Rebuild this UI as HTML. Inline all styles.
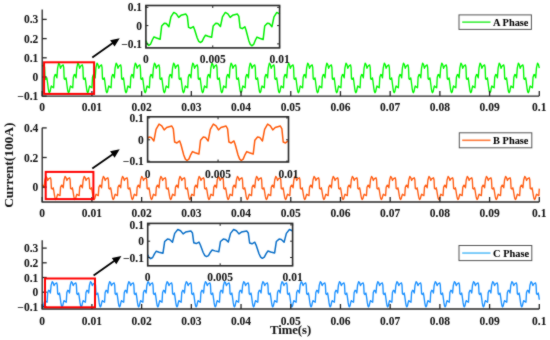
<!DOCTYPE html>
<html><head><meta charset="utf-8"><style>
html,body{margin:0;padding:0;background:#fff;}
body{width:550px;height:340px;overflow:hidden;}
svg{display:block;}
text{font-family:'Liberation Serif','Times New Roman',serif;font-weight:bold;fill:#151515;stroke:#151515;stroke-width:0.05px;}
.tk{font-size:11.5px;}
.lg{font-size:10.35px;fill:#000;stroke:#000;}
.xl{font-size:12.7px;}
.yl{font-size:13.4px;}
</style></head><body>
<div id="w"><svg width="550" height="340" viewBox="0 0 550 340">
<defs><filter id="bl" x="0" y="0" width="550" height="340" filterUnits="userSpaceOnUse" color-interpolation-filters="sRGB"><feConvolveMatrix order="3" kernelMatrix="1 2 1 2 20 2 1 2 1" divisor="32" edgeMode="duplicate"/></filter></defs>
<rect width="550" height="340" fill="#fff"/>
<g filter="url(#bl)">
<rect width="550" height="340" fill="#fff"/>
<polyline points="42.20,66.31 42.23,66.25 44.05,64.90 44.58,67.40 45.04,78.65 45.86,79.40 46.82,77.90 47.26,80.59 48.26,88.53 48.83,91.68 49.41,92.72 50.08,91.68 50.75,88.23 51.32,85.99 52.28,86.88 53.62,87.78 54.20,77.30 55.15,74.50 55.92,74.89 56.88,77.90 57.64,67.78 58.70,63.18 59.65,64.71 60.52,68.36 61.38,66.25 63.20,64.90 63.73,67.40 64.19,78.65 65.02,79.40 65.98,77.90 66.42,80.59 67.41,88.53 67.99,91.68 68.56,92.72 69.23,91.68 69.90,88.23 70.48,85.99 71.43,86.88 72.77,87.78 73.35,77.30 74.31,74.50 75.07,74.89 76.03,77.90 76.80,67.78 77.85,63.18 78.81,64.71 79.67,68.36 80.53,66.25 82.35,64.90 82.89,67.40 83.35,78.65 84.17,79.40 85.13,77.90 85.57,80.59 86.57,88.53 87.14,91.68 87.71,92.72 88.38,91.68 89.06,88.23 89.63,85.99 90.59,86.88 91.93,87.78 92.50,77.30 93.46,74.50 94.23,74.89 95.18,77.90 95.95,67.78 97.00,63.18 97.96,64.71 98.82,68.36 99.69,66.25 101.50,64.90 102.04,67.40 102.50,78.65 103.32,79.40 104.28,77.90 104.72,80.59 105.72,88.53 106.29,91.68 106.87,92.72 107.54,91.68 108.21,88.23 108.78,85.99 109.74,86.88 111.08,87.78 111.66,77.30 112.61,74.50 113.38,74.89 114.34,77.90 115.10,67.78 116.16,63.18 117.11,64.71 117.98,68.36 118.84,66.25 120.66,64.90 121.19,67.40 121.65,78.65 122.48,79.40 123.44,77.90 123.88,80.59 124.87,88.53 125.45,91.68 126.02,92.72 126.69,91.68 127.36,88.23 127.94,85.99 128.89,86.88 130.23,87.78 130.81,77.30 131.77,74.50 132.53,74.89 133.49,77.90 134.26,67.78 135.31,63.18 136.27,64.71 137.13,68.36 137.99,66.25 139.81,64.90 140.35,67.40 140.81,78.65 141.63,79.40 142.59,77.90 143.03,80.59 144.03,88.53 144.60,91.68 145.17,92.72 145.84,91.68 146.51,88.23 147.09,85.99 148.05,86.88 149.39,87.78 149.96,77.30 150.92,74.50 151.69,74.89 152.64,77.90 153.41,67.78 154.46,63.18 155.42,64.71 156.28,68.36 157.15,66.25 158.96,64.90 159.50,67.40 159.96,78.65 160.78,79.40 161.74,77.90 162.18,80.59 163.18,88.53 163.75,91.68 164.33,92.72 165.00,91.68 165.67,88.23 166.24,85.99 167.20,86.88 168.54,87.78 169.12,77.30 170.07,74.50 170.84,74.89 171.80,77.90 172.56,67.78 173.62,63.18 174.57,64.71 175.44,68.36 176.30,66.25 178.12,64.90 178.65,67.40 179.11,78.65 179.94,79.40 180.90,77.90 181.34,80.59 182.33,88.53 182.91,91.68 183.48,92.72 184.15,91.68 184.82,88.23 185.40,85.99 186.35,86.88 187.69,87.78 188.27,77.30 189.23,74.50 189.99,74.89 190.95,77.90 191.72,67.78 192.77,63.18 193.73,64.71 194.59,68.36 195.45,66.25 197.27,64.90 197.81,67.40 198.27,78.65 199.09,79.40 200.05,77.90 200.49,80.59 201.48,88.53 202.06,91.68 202.63,92.72 203.30,91.68 203.97,88.23 204.55,85.99 205.51,86.88 206.85,87.78 207.42,77.30 208.38,74.50 209.15,74.89 210.10,77.90 210.87,67.78 211.92,63.18 212.88,64.71 213.74,68.36 214.60,66.25 216.42,64.90 216.96,67.40 217.42,78.65 218.24,79.40 219.20,77.90 219.64,80.59 220.64,88.53 221.21,91.68 221.79,92.72 222.46,91.68 223.13,88.23 223.70,85.99 224.66,86.88 226.00,87.78 226.58,77.30 227.53,74.50 228.30,74.89 229.26,77.90 230.02,67.78 231.08,63.18 232.03,64.71 232.90,68.36 233.76,66.25 235.58,64.90 236.11,67.40 236.57,78.65 237.40,79.40 238.35,77.90 238.80,80.59 239.79,88.53 240.37,91.68 240.94,92.72 241.61,91.68 242.28,88.23 242.86,85.99 243.81,86.88 245.15,87.78 245.73,77.30 246.69,74.50 247.45,74.89 248.41,77.90 249.18,67.78 250.23,63.18 251.19,64.71 252.05,68.36 252.91,66.25 254.73,64.90 255.27,67.40 255.73,78.65 256.55,79.40 257.51,77.90 257.95,80.59 258.94,88.53 259.52,91.68 260.09,92.72 260.76,91.68 261.43,88.23 262.01,85.99 262.97,86.88 264.31,87.78 264.88,77.30 265.84,74.50 266.61,74.89 267.56,77.90 268.33,67.78 269.38,63.18 270.34,64.71 271.20,68.36 272.06,66.25 273.88,64.90 274.42,67.40 274.88,78.65 275.70,79.40 276.66,77.90 277.10,80.59 278.10,88.53 278.67,91.68 279.25,92.72 279.92,91.68 280.59,88.23 281.16,85.99 282.12,86.88 283.46,87.78 284.04,77.30 284.99,74.50 285.76,74.89 286.72,77.90 287.48,67.78 288.54,63.18 289.49,64.71 290.36,68.36 291.22,66.25 293.04,64.90 293.57,67.40 294.03,78.65 294.86,79.40 295.81,77.90 296.26,80.59 297.25,88.53 297.83,91.68 298.40,92.72 299.07,91.68 299.74,88.23 300.32,85.99 301.27,86.88 302.61,87.78 303.19,77.30 304.15,74.50 304.91,74.89 305.87,77.90 306.64,67.78 307.69,63.18 308.65,64.71 309.51,68.36 310.37,66.25 312.19,64.90 312.73,67.40 313.19,78.65 314.01,79.40 314.97,77.90 315.41,80.59 316.40,88.53 316.98,91.68 317.55,92.72 318.22,91.68 318.89,88.23 319.47,85.99 320.43,86.88 321.77,87.78 322.34,77.30 323.30,74.50 324.07,74.89 325.02,77.90 325.79,67.78 326.84,63.18 327.80,64.71 328.66,68.36 329.52,66.25 331.34,64.90 331.88,67.40 332.34,78.65 333.16,79.40 334.12,77.90 334.56,80.59 335.56,88.53 336.13,91.68 336.71,92.72 337.38,91.68 338.05,88.23 338.62,85.99 339.58,86.88 340.92,87.78 341.50,77.30 342.45,74.50 343.22,74.89 344.18,77.90 344.94,67.78 346.00,63.18 346.95,64.71 347.82,68.36 348.68,66.25 350.50,64.90 351.03,67.40 351.49,78.65 352.32,79.40 353.27,77.90 353.71,80.59 354.71,88.53 355.29,91.68 355.86,92.72 356.53,91.68 357.20,88.23 357.78,85.99 358.73,86.88 360.07,87.78 360.65,77.30 361.61,74.50 362.37,74.89 363.33,77.90 364.10,67.78 365.15,63.18 366.11,64.71 366.97,68.36 367.83,66.25 369.65,64.90 370.19,67.40 370.65,78.65 371.47,79.40 372.43,77.90 372.87,80.59 373.86,88.53 374.44,91.68 375.01,92.72 375.68,91.68 376.35,88.23 376.93,85.99 377.89,86.88 379.23,87.78 379.80,77.30 380.76,74.50 381.53,74.89 382.48,77.90 383.25,67.78 384.30,63.18 385.26,64.71 386.12,68.36 386.98,66.25 388.80,64.90 389.34,67.40 389.80,78.65 390.62,79.40 391.58,77.90 392.02,80.59 393.02,88.53 393.59,91.68 394.17,92.72 394.84,91.68 395.51,88.23 396.08,85.99 397.04,86.88 398.38,87.78 398.95,77.30 399.91,74.50 400.68,74.89 401.64,77.90 402.40,67.78 403.46,63.18 404.41,64.71 405.28,68.36 406.14,66.25 407.96,64.90 408.49,67.40 408.95,78.65 409.78,79.40 410.73,77.90 411.17,80.59 412.17,88.53 412.75,91.68 413.32,92.72 413.99,91.68 414.66,88.23 415.24,85.99 416.19,86.88 417.53,87.78 418.11,77.30 419.07,74.50 419.83,74.89 420.79,77.90 421.56,67.78 422.61,63.18 423.57,64.71 424.43,68.36 425.29,66.25 427.11,64.90 427.65,67.40 428.11,78.65 428.93,79.40 429.89,77.90 430.33,80.59 431.32,88.53 431.90,91.68 432.47,92.72 433.14,91.68 433.81,88.23 434.39,85.99 435.35,86.88 436.69,87.78 437.26,77.30 438.22,74.50 438.99,74.89 439.94,77.90 440.71,67.78 441.76,63.18 442.72,64.71 443.58,68.36 444.44,66.25 446.26,64.90 446.80,67.40 447.26,78.65 448.08,79.40 449.04,77.90 449.48,80.59 450.48,88.53 451.05,91.68 451.63,92.72 452.30,91.68 452.97,88.23 453.54,85.99 454.50,86.88 455.84,87.78 456.41,77.30 457.37,74.50 458.14,74.89 459.10,77.90 459.86,67.78 460.92,63.18 461.87,64.71 462.74,68.36 463.60,66.25 465.42,64.90 465.95,67.40 466.41,78.65 467.24,79.40 468.19,77.90 468.63,80.59 469.63,88.53 470.21,91.68 470.78,92.72 471.45,91.68 472.12,88.23 472.70,85.99 473.65,86.88 474.99,87.78 475.57,77.30 476.53,74.50 477.29,74.89 478.25,77.90 479.02,67.78 480.07,63.18 481.03,64.71 481.89,68.36 482.75,66.25 484.57,64.90 485.11,67.40 485.57,78.65 486.39,79.40 487.35,77.90 487.79,80.59 488.78,88.53 489.36,91.68 489.93,92.72 490.60,91.68 491.27,88.23 491.85,85.99 492.81,86.88 494.15,87.78 494.72,77.30 495.68,74.50 496.45,74.89 497.40,77.90 498.17,67.78 499.22,63.18 500.18,64.71 501.04,68.36 501.90,66.25 503.72,64.90 504.26,67.40 504.72,78.65 505.54,79.40 506.50,77.90 506.94,80.59 507.94,88.53 508.51,91.68 509.09,92.72 509.76,91.68 510.43,88.23 511.00,85.99 511.96,86.88 513.30,87.78 513.87,77.30 514.83,74.50 515.60,74.89 516.56,77.90 517.32,67.78 518.38,63.18 519.33,64.71 520.20,68.36 521.06,66.25 522.88,64.90 523.41,67.40 523.87,78.65 524.70,79.40 525.65,77.90 526.09,80.59 527.09,88.53 527.66,91.68 528.24,92.72 528.91,91.68 529.58,88.23 530.15,85.99 531.11,86.88 532.45,87.78 533.03,77.30 533.99,74.50 534.75,74.89 535.71,77.90 536.48,67.78 537.53,63.18 538.49,64.71 539.30,68.16" fill="none" stroke="#00f800" stroke-width="1.35" stroke-linejoin="round"/>
<path d="M42.2,9.4V96.1H539.3" fill="none" stroke="#262626" stroke-width="1.3"/>
<path d="M42.2,19.40h4.5" stroke="#262626" stroke-width="1.3"/>
<text x="38.3" y="23.40" text-anchor="end" class="tk">0.3</text>
<path d="M42.2,38.60h4.5" stroke="#262626" stroke-width="1.3"/>
<text x="38.3" y="42.60" text-anchor="end" class="tk">0.2</text>
<path d="M42.2,57.80h4.5" stroke="#262626" stroke-width="1.3"/>
<text x="38.3" y="61.80" text-anchor="end" class="tk">0.1</text>
<path d="M42.2,77.00h4.5" stroke="#262626" stroke-width="1.3"/>
<text x="38.3" y="81.00" text-anchor="end" class="tk">0</text>
<path d="M42.2,96.20h4.5" stroke="#262626" stroke-width="1.3"/>
<text x="38.3" y="100.20" text-anchor="end" class="tk">−0.1</text>
<path d="M42.20,96.1v-5" stroke="#262626" stroke-width="1.3"/>
<text x="42.20" y="111.10" text-anchor="middle" class="tk">0</text>
<path d="M91.91,96.1v-5" stroke="#262626" stroke-width="1.3"/>
<text x="91.91" y="111.10" text-anchor="middle" class="tk">0.01</text>
<path d="M141.62,96.1v-5" stroke="#262626" stroke-width="1.3"/>
<text x="141.62" y="111.10" text-anchor="middle" class="tk">0.02</text>
<path d="M191.33,96.1v-5" stroke="#262626" stroke-width="1.3"/>
<text x="191.33" y="111.10" text-anchor="middle" class="tk">0.03</text>
<path d="M241.04,96.1v-5" stroke="#262626" stroke-width="1.3"/>
<text x="241.04" y="111.10" text-anchor="middle" class="tk">0.04</text>
<path d="M290.75,96.1v-5" stroke="#262626" stroke-width="1.3"/>
<text x="290.75" y="111.10" text-anchor="middle" class="tk">0.05</text>
<path d="M340.46,96.1v-5" stroke="#262626" stroke-width="1.3"/>
<text x="340.46" y="111.10" text-anchor="middle" class="tk">0.06</text>
<path d="M390.17,96.1v-5" stroke="#262626" stroke-width="1.3"/>
<text x="390.17" y="111.10" text-anchor="middle" class="tk">0.07</text>
<path d="M439.88,96.1v-5" stroke="#262626" stroke-width="1.3"/>
<text x="439.88" y="111.10" text-anchor="middle" class="tk">0.08</text>
<path d="M489.59,96.1v-5" stroke="#262626" stroke-width="1.3"/>
<text x="489.59" y="111.10" text-anchor="middle" class="tk">0.09</text>
<path d="M539.30,96.1v-5" stroke="#262626" stroke-width="1.3"/>
<text x="539.30" y="111.10" text-anchor="middle" class="tk">0.1</text>
<polyline points="42.20,185.56 42.36,185.18 43.13,185.47 44.09,187.81 44.85,180.00 45.91,176.44 46.86,177.63 47.73,180.44 48.59,178.81 50.41,177.78 50.94,179.70 51.40,188.40 52.23,188.99 53.19,187.81 53.63,189.94 54.62,196.22 55.20,198.70 55.77,199.53 56.44,198.70 57.11,195.98 57.69,194.20 58.64,194.91 59.98,195.62 60.56,187.34 61.52,185.18 62.28,185.47 63.24,187.81 64.01,180.00 65.06,176.44 66.02,177.63 66.88,180.44 67.74,178.81 69.56,177.78 70.10,179.70 70.56,188.40 71.38,188.99 72.34,187.81 72.78,189.94 73.77,196.22 74.35,198.70 74.92,199.53 75.59,198.70 76.26,195.98 76.84,194.20 77.80,194.91 79.14,195.62 79.71,187.34 80.67,185.18 81.44,185.47 82.39,187.81 83.16,180.00 84.21,176.44 85.17,177.63 86.03,180.44 86.89,178.81 88.71,177.78 89.25,179.70 89.71,188.40 90.53,188.99 91.49,187.81 91.93,189.94 92.93,196.22 93.50,198.70 94.08,199.53 94.75,198.70 95.42,195.98 95.99,194.20 96.95,194.91 98.29,195.62 98.87,187.34 99.82,185.18 100.59,185.47 101.55,187.81 102.31,180.00 103.37,176.44 104.32,177.63 105.19,180.44 106.05,178.81 107.87,177.78 108.40,179.70 108.86,188.40 109.69,188.99 110.64,187.81 111.09,189.94 112.08,196.22 112.66,198.70 113.23,199.53 113.90,198.70 114.57,195.98 115.15,194.20 116.10,194.91 117.44,195.62 118.02,187.34 118.98,185.18 119.74,185.47 120.70,187.81 121.47,180.00 122.52,176.44 123.48,177.63 124.34,180.44 125.20,178.81 127.02,177.78 127.56,179.70 128.02,188.40 128.84,188.99 129.80,187.81 130.24,189.94 131.23,196.22 131.81,198.70 132.38,199.53 133.05,198.70 133.72,195.98 134.30,194.20 135.26,194.91 136.60,195.62 137.17,187.34 138.13,185.18 138.90,185.47 139.85,187.81 140.62,180.00 141.67,176.44 142.63,177.63 143.49,180.44 144.35,178.81 146.17,177.78 146.71,179.70 147.17,188.40 147.99,188.99 148.95,187.81 149.39,189.94 150.39,196.22 150.96,198.70 151.54,199.53 152.21,198.70 152.88,195.98 153.45,194.20 154.41,194.91 155.75,195.62 156.33,187.34 157.28,185.18 158.05,185.47 159.01,187.81 159.77,180.00 160.83,176.44 161.78,177.63 162.65,180.44 163.51,178.81 165.33,177.78 165.86,179.70 166.32,188.40 167.15,188.99 168.10,187.81 168.55,189.94 169.54,196.22 170.12,198.70 170.69,199.53 171.36,198.70 172.03,195.98 172.61,194.20 173.56,194.91 174.90,195.62 175.48,187.34 176.44,185.18 177.20,185.47 178.16,187.81 178.93,180.00 179.98,176.44 180.94,177.63 181.80,180.44 182.66,178.81 184.48,177.78 185.02,179.70 185.48,188.40 186.30,188.99 187.26,187.81 187.70,189.94 188.69,196.22 189.27,198.70 189.84,199.53 190.51,198.70 191.18,195.98 191.76,194.20 192.72,194.91 194.06,195.62 194.63,187.34 195.59,185.18 196.36,185.47 197.31,187.81 198.08,180.00 199.13,176.44 200.09,177.63 200.95,180.44 201.81,178.81 203.63,177.78 204.17,179.70 204.63,188.40 205.45,188.99 206.41,187.81 206.85,189.94 207.85,196.22 208.42,198.70 209.00,199.53 209.67,198.70 210.34,195.98 210.91,194.20 211.87,194.91 213.21,195.62 213.79,187.34 214.74,185.18 215.51,185.47 216.47,187.81 217.23,180.00 218.29,176.44 219.24,177.63 220.11,180.44 220.97,178.81 222.79,177.78 223.32,179.70 223.78,188.40 224.61,188.99 225.56,187.81 226.01,189.94 227.00,196.22 227.58,198.70 228.15,199.53 228.82,198.70 229.49,195.98 230.07,194.20 231.02,194.91 232.36,195.62 232.94,187.34 233.90,185.18 234.66,185.47 235.62,187.81 236.39,180.00 237.44,176.44 238.40,177.63 239.26,180.44 240.12,178.81 241.94,177.78 242.48,179.70 242.94,188.40 243.76,188.99 244.72,187.81 245.16,189.94 246.15,196.22 246.73,198.70 247.30,199.53 247.97,198.70 248.64,195.98 249.22,194.20 250.18,194.91 251.52,195.62 252.09,187.34 253.05,185.18 253.82,185.47 254.77,187.81 255.54,180.00 256.59,176.44 257.55,177.63 258.41,180.44 259.27,178.81 261.09,177.78 261.63,179.70 262.09,188.40 262.91,188.99 263.87,187.81 264.31,189.94 265.31,196.22 265.88,198.70 266.46,199.53 267.13,198.70 267.80,195.98 268.37,194.20 269.33,194.91 270.67,195.62 271.25,187.34 272.20,185.18 272.97,185.47 273.93,187.81 274.69,180.00 275.75,176.44 276.70,177.63 277.57,180.44 278.43,178.81 280.25,177.78 280.78,179.70 281.24,188.40 282.07,188.99 283.02,187.81 283.46,189.94 284.46,196.22 285.04,198.70 285.61,199.53 286.28,198.70 286.95,195.98 287.53,194.20 288.48,194.91 289.82,195.62 290.40,187.34 291.36,185.18 292.12,185.47 293.08,187.81 293.85,180.00 294.90,176.44 295.86,177.63 296.72,180.44 297.58,178.81 299.40,177.78 299.94,179.70 300.40,188.40 301.22,188.99 302.18,187.81 302.62,189.94 303.61,196.22 304.19,198.70 304.76,199.53 305.43,198.70 306.10,195.98 306.68,194.20 307.64,194.91 308.98,195.62 309.55,187.34 310.51,185.18 311.28,185.47 312.23,187.81 313.00,180.00 314.05,176.44 315.01,177.63 315.87,180.44 316.73,178.81 318.55,177.78 319.09,179.70 319.55,188.40 320.37,188.99 321.33,187.81 321.77,189.94 322.77,196.22 323.34,198.70 323.92,199.53 324.59,198.70 325.26,195.98 325.83,194.20 326.79,194.91 328.13,195.62 328.70,187.34 329.66,185.18 330.43,185.47 331.39,187.81 332.15,180.00 333.21,176.44 334.16,177.63 335.03,180.44 335.89,178.81 337.71,177.78 338.24,179.70 338.70,188.40 339.53,188.99 340.48,187.81 340.92,189.94 341.92,196.22 342.50,198.70 343.07,199.53 343.74,198.70 344.41,195.98 344.99,194.20 345.94,194.91 347.28,195.62 347.86,187.34 348.82,185.18 349.58,185.47 350.54,187.81 351.31,180.00 352.36,176.44 353.32,177.63 354.18,180.44 355.04,178.81 356.86,177.78 357.40,179.70 357.86,188.40 358.68,188.99 359.64,187.81 360.08,189.94 361.07,196.22 361.65,198.70 362.22,199.53 362.89,198.70 363.56,195.98 364.14,194.20 365.10,194.91 366.44,195.62 367.01,187.34 367.97,185.18 368.74,185.47 369.69,187.81 370.46,180.00 371.51,176.44 372.47,177.63 373.33,180.44 374.19,178.81 376.01,177.78 376.55,179.70 377.01,188.40 377.83,188.99 378.79,187.81 379.23,189.94 380.23,196.22 380.80,198.70 381.38,199.53 382.05,198.70 382.72,195.98 383.29,194.20 384.25,194.91 385.59,195.62 386.16,187.34 387.12,185.18 387.89,185.47 388.85,187.81 389.61,180.00 390.67,176.44 391.62,177.63 392.49,180.44 393.35,178.81 395.17,177.78 395.70,179.70 396.16,188.40 396.99,188.99 397.94,187.81 398.38,189.94 399.38,196.22 399.95,198.70 400.53,199.53 401.20,198.70 401.87,195.98 402.44,194.20 403.40,194.91 404.74,195.62 405.32,187.34 406.28,185.18 407.04,185.47 408.00,187.81 408.77,180.00 409.82,176.44 410.78,177.63 411.64,180.44 412.50,178.81 414.32,177.78 414.86,179.70 415.32,188.40 416.14,188.99 417.10,187.81 417.54,189.94 418.53,196.22 419.11,198.70 419.68,199.53 420.35,198.70 421.02,195.98 421.60,194.20 422.56,194.91 423.90,195.62 424.47,187.34 425.43,185.18 426.19,185.47 427.15,187.81 427.92,180.00 428.97,176.44 429.93,177.63 430.79,180.44 431.65,178.81 433.47,177.78 434.01,179.70 434.47,188.40 435.29,188.99 436.25,187.81 436.69,189.94 437.69,196.22 438.26,198.70 438.84,199.53 439.51,198.70 440.18,195.98 440.75,194.20 441.71,194.91 443.05,195.62 443.62,187.34 444.58,185.18 445.35,185.47 446.31,187.81 447.07,180.00 448.13,176.44 449.08,177.63 449.94,180.44 450.81,178.81 452.63,177.78 453.16,179.70 453.62,188.40 454.45,188.99 455.40,187.81 455.84,189.94 456.84,196.22 457.41,198.70 457.99,199.53 458.66,198.70 459.33,195.98 459.90,194.20 460.86,194.91 462.20,195.62 462.78,187.34 463.74,185.18 464.50,185.47 465.46,187.81 466.23,180.00 467.28,176.44 468.24,177.63 469.10,180.44 469.96,178.81 471.78,177.78 472.32,179.70 472.78,188.40 473.60,188.99 474.56,187.81 475.00,189.94 475.99,196.22 476.57,198.70 477.14,199.53 477.81,198.70 478.48,195.98 479.06,194.20 480.02,194.91 481.36,195.62 481.93,187.34 482.89,185.18 483.65,185.47 484.61,187.81 485.38,180.00 486.43,176.44 487.39,177.63 488.25,180.44 489.11,178.81 490.93,177.78 491.47,179.70 491.93,188.40 492.75,188.99 493.71,187.81 494.15,189.94 495.15,196.22 495.72,198.70 496.30,199.53 496.97,198.70 497.64,195.98 498.21,194.20 499.17,194.91 500.51,195.62 501.08,187.34 502.04,185.18 502.81,185.47 503.77,187.81 504.53,180.00 505.59,176.44 506.54,177.63 507.40,180.44 508.27,178.81 510.09,177.78 510.62,179.70 511.08,188.40 511.91,188.99 512.86,187.81 513.30,189.94 514.30,196.22 514.87,198.70 515.45,199.53 516.12,198.70 516.79,195.98 517.36,194.20 518.32,194.91 519.66,195.62 520.24,187.34 521.20,185.18 521.96,185.47 522.92,187.81 523.69,180.00 524.74,176.44 525.70,177.63 526.56,180.44 527.42,178.81 529.24,177.78 529.78,179.70 530.24,188.40 531.06,188.99 532.02,187.81 532.46,189.94 533.45,196.22 534.03,198.70 534.60,199.53 535.27,198.70 535.94,195.98 536.52,194.20 537.48,194.91 538.82,195.62 539.30,188.65" fill="none" stroke="#ff5c12" stroke-width="1.35" stroke-linejoin="round"/>
<path d="M42.2,127.7V202.0H539.3" fill="none" stroke="#262626" stroke-width="1.3"/>
<path d="M42.2,127.90h4.5" stroke="#262626" stroke-width="1.3"/>
<text x="38.3" y="131.90" text-anchor="end" class="tk">0.4</text>
<path d="M42.2,157.50h4.5" stroke="#262626" stroke-width="1.3"/>
<text x="38.3" y="161.50" text-anchor="end" class="tk">0.2</text>
<path d="M42.2,187.10h4.5" stroke="#262626" stroke-width="1.3"/>
<text x="38.3" y="191.10" text-anchor="end" class="tk">0</text>
<path d="M42.20,202.0v-5" stroke="#262626" stroke-width="1.3"/>
<text x="42.20" y="217.00" text-anchor="middle" class="tk">0</text>
<path d="M91.91,202.0v-5" stroke="#262626" stroke-width="1.3"/>
<text x="91.91" y="217.00" text-anchor="middle" class="tk">0.01</text>
<path d="M141.62,202.0v-5" stroke="#262626" stroke-width="1.3"/>
<text x="141.62" y="217.00" text-anchor="middle" class="tk">0.02</text>
<path d="M191.33,202.0v-5" stroke="#262626" stroke-width="1.3"/>
<text x="191.33" y="217.00" text-anchor="middle" class="tk">0.03</text>
<path d="M241.04,202.0v-5" stroke="#262626" stroke-width="1.3"/>
<text x="241.04" y="217.00" text-anchor="middle" class="tk">0.04</text>
<path d="M290.75,202.0v-5" stroke="#262626" stroke-width="1.3"/>
<text x="290.75" y="217.00" text-anchor="middle" class="tk">0.05</text>
<path d="M340.46,202.0v-5" stroke="#262626" stroke-width="1.3"/>
<text x="340.46" y="217.00" text-anchor="middle" class="tk">0.06</text>
<path d="M390.17,202.0v-5" stroke="#262626" stroke-width="1.3"/>
<text x="390.17" y="217.00" text-anchor="middle" class="tk">0.07</text>
<path d="M439.88,202.0v-5" stroke="#262626" stroke-width="1.3"/>
<text x="439.88" y="217.00" text-anchor="middle" class="tk">0.08</text>
<path d="M489.59,202.0v-5" stroke="#262626" stroke-width="1.3"/>
<text x="489.59" y="217.00" text-anchor="middle" class="tk">0.09</text>
<path d="M539.30,202.0v-5" stroke="#262626" stroke-width="1.3"/>
<text x="539.30" y="217.00" text-anchor="middle" class="tk">0.1</text>
<polyline points="42.20,305.27 42.32,305.89 42.90,306.86 43.57,305.89 44.24,302.67 44.81,300.58 45.77,301.42 47.11,302.25 47.68,292.48 48.64,290.29 49.41,290.58 50.37,293.04 51.13,285.14 52.19,281.62 53.14,282.79 54.00,285.58 54.87,283.97 56.69,282.94 57.22,284.85 57.68,293.74 58.51,294.43 59.46,293.04 59.90,295.55 60.90,302.95 61.47,305.89 62.05,306.86 62.72,305.89 63.39,302.67 63.96,300.58 64.92,301.42 66.26,302.25 66.84,292.48 67.80,290.29 68.56,290.58 69.52,293.04 70.29,285.14 71.34,281.62 72.30,282.79 73.16,285.58 74.02,283.97 75.84,282.94 76.38,284.85 76.84,293.74 77.66,294.43 78.62,293.04 79.06,295.55 80.05,302.95 80.63,305.89 81.20,306.86 81.87,305.89 82.54,302.67 83.12,300.58 84.08,301.42 85.42,302.25 85.99,292.48 86.95,290.29 87.71,290.58 88.67,293.04 89.44,285.14 90.49,281.62 91.45,282.79 92.31,285.58 93.17,283.97 94.99,282.94 95.53,284.85 95.99,293.74 96.81,294.43 97.77,293.04 98.21,295.55 99.21,302.95 99.78,305.89 100.36,306.86 101.03,305.89 101.70,302.67 102.27,300.58 103.23,301.42 104.57,302.25 105.14,292.48 106.10,290.29 106.87,290.58 107.83,293.04 108.59,285.14 109.65,281.62 110.60,282.79 111.46,285.58 112.33,283.97 114.15,282.94 114.68,284.85 115.14,293.74 115.97,294.43 116.92,293.04 117.36,295.55 118.36,302.95 118.93,305.89 119.51,306.86 120.18,305.89 120.85,302.67 121.42,300.58 122.38,301.42 123.72,302.25 124.30,292.48 125.25,290.29 126.02,290.58 126.98,293.04 127.74,285.14 128.80,281.62 129.76,282.79 130.62,285.58 131.48,283.97 133.30,282.94 133.84,284.85 134.30,293.74 135.12,294.43 136.08,293.04 136.52,295.55 137.51,302.95 138.09,305.89 138.66,306.86 139.33,305.89 140.00,302.67 140.58,300.58 141.54,301.42 142.88,302.25 143.45,292.48 144.41,290.29 145.17,290.58 146.13,293.04 146.90,285.14 147.95,281.62 148.91,282.79 149.77,285.58 150.63,283.97 152.45,282.94 152.99,284.85 153.45,293.74 154.27,294.43 155.23,293.04 155.67,295.55 156.67,302.95 157.24,305.89 157.82,306.86 158.49,305.89 159.16,302.67 159.73,300.58 160.69,301.42 162.03,302.25 162.60,292.48 163.56,290.29 164.33,290.58 165.29,293.04 166.05,285.14 167.10,281.62 168.06,282.79 168.92,285.58 169.79,283.97 171.61,282.94 172.14,284.85 172.60,293.74 173.43,294.43 174.38,293.04 174.82,295.55 175.82,302.95 176.39,305.89 176.97,306.86 177.64,305.89 178.31,302.67 178.88,300.58 179.84,301.42 181.18,302.25 181.76,292.48 182.71,290.29 183.48,290.58 184.44,293.04 185.20,285.14 186.26,281.62 187.22,282.79 188.08,285.58 188.94,283.97 190.76,282.94 191.30,284.85 191.76,293.74 192.58,294.43 193.54,293.04 193.98,295.55 194.97,302.95 195.55,305.89 196.12,306.86 196.79,305.89 197.46,302.67 198.04,300.58 199.00,301.42 200.34,302.25 200.91,292.48 201.87,290.29 202.63,290.58 203.59,293.04 204.36,285.14 205.41,281.62 206.37,282.79 207.23,285.58 208.09,283.97 209.91,282.94 210.45,284.85 210.91,293.74 211.73,294.43 212.69,293.04 213.13,295.55 214.13,302.95 214.70,305.89 215.28,306.86 215.95,305.89 216.62,302.67 217.19,300.58 218.15,301.42 219.49,302.25 220.06,292.48 221.02,290.29 221.79,290.58 222.75,293.04 223.51,285.14 224.56,281.62 225.52,282.79 226.38,285.58 227.25,283.97 229.07,282.94 229.60,284.85 230.06,293.74 230.89,294.43 231.84,293.04 232.28,295.55 233.28,302.95 233.85,305.89 234.43,306.86 235.10,305.89 235.77,302.67 236.34,300.58 237.30,301.42 238.64,302.25 239.22,292.48 240.17,290.29 240.94,290.58 241.90,293.04 242.66,285.14 243.72,281.62 244.68,282.79 245.54,285.58 246.40,283.97 248.22,282.94 248.76,284.85 249.21,293.74 250.04,294.43 251.00,293.04 251.44,295.55 252.43,302.95 253.01,305.89 253.58,306.86 254.25,305.89 254.92,302.67 255.50,300.58 256.45,301.42 257.80,302.25 258.37,292.48 259.33,290.29 260.09,290.58 261.05,293.04 261.82,285.14 262.87,281.62 263.83,282.79 264.69,285.58 265.55,283.97 267.37,282.94 267.91,284.85 268.37,293.74 269.19,294.43 270.15,293.04 270.59,295.55 271.59,302.95 272.16,305.89 272.74,306.86 273.41,305.89 274.08,302.67 274.65,300.58 275.61,301.42 276.95,302.25 277.52,292.48 278.48,290.29 279.25,290.58 280.20,293.04 280.97,285.14 282.02,281.62 282.98,282.79 283.84,285.58 284.71,283.97 286.53,282.94 287.06,284.85 287.52,293.74 288.35,294.43 289.30,293.04 289.74,295.55 290.74,302.95 291.31,305.89 291.89,306.86 292.56,305.89 293.23,302.67 293.80,300.58 294.76,301.42 296.10,302.25 296.68,292.48 297.63,290.29 298.40,290.58 299.36,293.04 300.12,285.14 301.18,281.62 302.14,282.79 303.00,285.58 303.86,283.97 305.68,282.94 306.21,284.85 306.67,293.74 307.50,294.43 308.46,293.04 308.90,295.55 309.89,302.95 310.47,305.89 311.04,306.86 311.71,305.89 312.38,302.67 312.96,300.58 313.91,301.42 315.26,302.25 315.83,292.48 316.79,290.29 317.55,290.58 318.51,293.04 319.28,285.14 320.33,281.62 321.29,282.79 322.15,285.58 323.01,283.97 324.83,282.94 325.37,284.85 325.83,293.74 326.65,294.43 327.61,293.04 328.05,295.55 329.05,302.95 329.62,305.89 330.19,306.86 330.87,305.89 331.54,302.67 332.11,300.58 333.07,301.42 334.41,302.25 334.98,292.48 335.94,290.29 336.71,290.58 337.66,293.04 338.43,285.14 339.48,281.62 340.44,282.79 341.30,285.58 342.17,283.97 343.99,282.94 344.52,284.85 344.98,293.74 345.80,294.43 346.76,293.04 347.20,295.55 348.20,302.95 348.77,305.89 349.35,306.86 350.02,305.89 350.69,302.67 351.26,300.58 352.22,301.42 353.56,302.25 354.14,292.48 355.09,290.29 355.86,290.58 356.82,293.04 357.58,285.14 358.64,281.62 359.60,282.79 360.46,285.58 361.32,283.97 363.14,282.94 363.67,284.85 364.13,293.74 364.96,294.43 365.92,293.04 366.36,295.55 367.35,302.95 367.93,305.89 368.50,306.86 369.17,305.89 369.84,302.67 370.42,300.58 371.37,301.42 372.72,302.25 373.29,292.48 374.25,290.29 375.01,290.58 375.97,293.04 376.74,285.14 377.79,281.62 378.75,282.79 379.61,285.58 380.47,283.97 382.29,282.94 382.83,284.85 383.29,293.74 384.11,294.43 385.07,293.04 385.51,295.55 386.51,302.95 387.08,305.89 387.65,306.86 388.33,305.89 389.00,302.67 389.57,300.58 390.53,301.42 391.87,302.25 392.44,292.48 393.40,290.29 394.17,290.58 395.12,293.04 395.89,285.14 396.94,281.62 397.90,282.79 398.76,285.58 399.63,283.97 401.45,282.94 401.98,284.85 402.44,293.74 403.26,294.43 404.22,293.04 404.66,295.55 405.66,302.95 406.23,305.89 406.81,306.86 407.48,305.89 408.15,302.67 408.72,300.58 409.68,301.42 411.02,302.25 411.60,292.48 412.55,290.29 413.32,290.58 414.28,293.04 415.04,285.14 416.10,281.62 417.05,282.79 417.92,285.58 418.78,283.97 420.60,282.94 421.13,284.85 421.59,293.74 422.42,294.43 423.38,293.04 423.82,295.55 424.81,302.95 425.39,305.89 425.96,306.86 426.63,305.89 427.30,302.67 427.88,300.58 428.83,301.42 430.17,302.25 430.75,292.48 431.71,290.29 432.47,290.58 433.43,293.04 434.20,285.14 435.25,281.62 436.21,282.79 437.07,285.58 437.93,283.97 439.75,282.94 440.29,284.85 440.75,293.74 441.57,294.43 442.53,293.04 442.97,295.55 443.97,302.95 444.54,305.89 445.11,306.86 445.78,305.89 446.46,302.67 447.03,300.58 447.99,301.42 449.33,302.25 449.90,292.48 450.86,290.29 451.63,290.58 452.58,293.04 453.35,285.14 454.40,281.62 455.36,282.79 456.22,285.58 457.09,283.97 458.90,282.94 459.44,284.85 459.90,293.74 460.72,294.43 461.68,293.04 462.12,295.55 463.12,302.95 463.69,305.89 464.27,306.86 464.94,305.89 465.61,302.67 466.18,300.58 467.14,301.42 468.48,302.25 469.06,292.48 470.01,290.29 470.78,290.58 471.74,293.04 472.50,285.14 473.56,281.62 474.51,282.79 475.38,285.58 476.24,283.97 478.06,282.94 478.59,284.85 479.05,293.74 479.88,294.43 480.84,293.04 481.28,295.55 482.27,302.95 482.85,305.89 483.42,306.86 484.09,305.89 484.76,302.67 485.34,300.58 486.29,301.42 487.63,302.25 488.21,292.48 489.17,290.29 489.93,290.58 490.89,293.04 491.66,285.14 492.71,281.62 493.67,282.79 494.53,285.58 495.39,283.97 497.21,282.94 497.75,284.85 498.21,293.74 499.03,294.43 499.99,293.04 500.43,295.55 501.43,302.95 502.00,305.89 502.57,306.86 503.24,305.89 503.91,302.67 504.49,300.58 505.45,301.42 506.79,302.25 507.36,292.48 508.32,290.29 509.09,290.58 510.04,293.04 510.81,285.14 511.86,281.62 512.82,282.79 513.68,285.58 514.55,283.97 516.36,282.94 516.90,284.85 517.36,293.74 518.18,294.43 519.14,293.04 519.58,295.55 520.58,302.95 521.15,305.89 521.73,306.86 522.40,305.89 523.07,302.67 523.64,300.58 524.60,301.42 525.94,302.25 526.52,292.48 527.47,290.29 528.24,290.58 529.20,293.04 529.96,285.14 531.02,281.62 531.97,282.79 532.84,285.58 533.70,283.97 535.52,282.94 536.05,284.85 536.51,293.74 537.34,294.43 538.30,293.04 538.74,295.55 539.30,299.75" fill="none" stroke="#1a90ff" stroke-width="1.35" stroke-linejoin="round"/>
<path d="M42.2,240.3V309.0H539.3" fill="none" stroke="#262626" stroke-width="1.3"/>
<path d="M42.2,248.10h4.5" stroke="#262626" stroke-width="1.3"/>
<text x="38.3" y="252.10" text-anchor="end" class="tk">0.3</text>
<path d="M42.2,262.80h4.5" stroke="#262626" stroke-width="1.3"/>
<text x="38.3" y="266.80" text-anchor="end" class="tk">0.2</text>
<path d="M42.2,277.50h4.5" stroke="#262626" stroke-width="1.3"/>
<text x="38.3" y="281.50" text-anchor="end" class="tk">0.1</text>
<path d="M42.2,292.20h4.5" stroke="#262626" stroke-width="1.3"/>
<text x="38.3" y="296.20" text-anchor="end" class="tk">0</text>
<path d="M42.2,306.90h4.5" stroke="#262626" stroke-width="1.3"/>
<text x="38.3" y="310.90" text-anchor="end" class="tk">−0.1</text>
<path d="M42.20,309.0v-5" stroke="#262626" stroke-width="1.3"/>
<text x="42.20" y="324.80" text-anchor="middle" class="tk">0</text>
<path d="M91.91,309.0v-5" stroke="#262626" stroke-width="1.3"/>
<text x="91.91" y="324.80" text-anchor="middle" class="tk">0.01</text>
<path d="M141.62,309.0v-5" stroke="#262626" stroke-width="1.3"/>
<text x="141.62" y="324.80" text-anchor="middle" class="tk">0.02</text>
<path d="M191.33,309.0v-5" stroke="#262626" stroke-width="1.3"/>
<text x="191.33" y="324.80" text-anchor="middle" class="tk">0.03</text>
<path d="M241.04,309.0v-5" stroke="#262626" stroke-width="1.3"/>
<text x="241.04" y="324.80" text-anchor="middle" class="tk">0.04</text>
<path d="M290.75,309.0v-5" stroke="#262626" stroke-width="1.3"/>
<text x="290.75" y="324.80" text-anchor="middle" class="tk">0.05</text>
<path d="M340.46,309.0v-5" stroke="#262626" stroke-width="1.3"/>
<text x="340.46" y="324.80" text-anchor="middle" class="tk">0.06</text>
<path d="M390.17,309.0v-5" stroke="#262626" stroke-width="1.3"/>
<text x="390.17" y="324.80" text-anchor="middle" class="tk">0.07</text>
<path d="M439.88,309.0v-5" stroke="#262626" stroke-width="1.3"/>
<text x="439.88" y="324.80" text-anchor="middle" class="tk">0.08</text>
<path d="M489.59,309.0v-5" stroke="#262626" stroke-width="1.3"/>
<text x="489.59" y="324.80" text-anchor="middle" class="tk">0.09</text>
<path d="M539.30,309.0v-5" stroke="#262626" stroke-width="1.3"/>
<text x="539.30" y="324.80" text-anchor="middle" class="tk">0.1</text>
<rect x="44.1" y="62.3" width="50.00" height="31.60" fill="none" stroke="#ff0000" stroke-width="2"/>
<rect x="45.7" y="171.9" width="47.70" height="27.20" fill="none" stroke="#ff0000" stroke-width="2"/>
<rect x="45.0" y="278.5" width="50.00" height="28.80" fill="none" stroke="#ff0000" stroke-width="2"/>
<path d="M92.3,57.5L113.16,42.81" stroke="#000" stroke-width="1.8"/>
<path d="M119.7,38.2L114.59,46.57L110.10,40.19Z" fill="#000"/>
<path d="M92.3,168.5L113.15,153.89" stroke="#000" stroke-width="1.8"/>
<path d="M119.7,149.3L114.57,157.66L110.09,151.27Z" fill="#000"/>
<path d="M93.6,275.5L114.86,260.51" stroke="#000" stroke-width="1.8"/>
<path d="M121.4,255.9L116.29,264.27L111.80,257.90Z" fill="#000"/>
<rect x="145.9" y="5.5" width="133.70" height="42.40" fill="#fff"/>
<polyline points="145.90,40.60 147.26,44.07 148.80,45.39 150.60,44.07 152.41,39.74 153.95,36.91 156.53,38.04 160.13,39.17 161.68,25.98 164.26,23.22 166.32,23.59 168.89,26.73 170.95,16.82 173.79,12.42 176.36,13.89 178.68,17.37 181.00,15.35 185.89,14.07 187.33,16.45 188.57,27.37 190.79,28.18 193.36,26.57 194.55,29.46 197.23,38.00 198.77,41.38 200.32,42.51 202.12,41.38 203.92,37.68 205.47,35.26 208.04,36.23 211.65,37.19 213.19,25.92 215.77,23.22 217.83,23.59 220.41,26.57 222.47,16.82 225.30,12.42 227.88,13.89 230.19,17.36 232.51,15.35 237.41,14.07 238.85,16.45 240.09,27.71 242.30,28.67 244.88,26.75 246.06,30.21 248.74,40.40 250.29,44.43 251.83,45.78 253.63,44.43 255.44,40.01 256.98,37.13 259.56,38.28 263.16,39.43 264.71,25.98 267.28,23.22 269.35,23.59 271.92,26.75 273.98,16.82 276.82,12.42 279.39,13.89 279.60,14.20" fill="none" stroke="#00f000" stroke-width="1.5" stroke-linejoin="round"/>
<path d="M145.9,7.30h2.5M279.6,7.30h-2.5" stroke="#222" stroke-width="1"/>
<text x="142.10" y="11.30" text-anchor="end" class="tk">0.1</text>
<path d="M145.9,25.60h2.5M279.6,25.60h-2.5" stroke="#222" stroke-width="1"/>
<text x="142.10" y="29.60" text-anchor="end" class="tk">0</text>
<path d="M145.9,43.90h2.5M279.6,43.90h-2.5" stroke="#222" stroke-width="1"/>
<text x="142.10" y="47.90" text-anchor="end" class="tk">−0.1</text>
<path d="M145.90,5.5v2.5M145.90,47.9v-2.5" stroke="#222" stroke-width="1"/>
<text x="145.90" y="62.90" text-anchor="middle" class="tk">0</text>
<path d="M212.75,5.5v2.5M212.75,47.9v-2.5" stroke="#222" stroke-width="1"/>
<text x="212.75" y="62.90" text-anchor="middle" class="tk">0.005</text>
<path d="M279.60,5.5v2.5M279.60,47.9v-2.5" stroke="#222" stroke-width="1"/>
<text x="279.60" y="62.90" text-anchor="middle" class="tk">0.01</text>
<rect x="145.9" y="5.5" width="133.70" height="42.40" fill="none" stroke="#2a2a2a" stroke-width="1.6"/>
<rect x="147.6" y="116.8" width="140.90" height="45.20" fill="#fff"/>
<polyline points="147.60,138.64 148.99,136.95 151.17,137.39 153.88,140.98 156.05,129.29 159.04,124.03 161.75,125.78 164.19,129.95 166.64,127.54 171.79,126.00 173.31,128.85 174.62,141.97 176.95,142.95 179.67,140.98 180.92,144.53 183.74,154.98 185.37,159.12 187.00,160.50 188.90,159.12 190.80,154.58 192.42,151.63 195.14,152.81 198.94,153.99 200.57,140.19 203.28,136.95 205.45,137.39 208.17,140.98 210.34,129.29 213.33,124.03 216.04,125.78 218.48,129.95 220.93,127.54 226.08,126.00 227.60,128.85 228.91,141.97 231.24,142.95 233.96,140.98 235.20,144.53 238.03,154.98 239.66,159.12 241.28,160.50 243.18,159.12 245.08,154.58 246.71,151.63 249.43,152.81 253.23,153.99 254.86,140.19 257.57,136.95 259.74,137.39 262.46,140.98 264.63,129.29 267.61,124.03 270.33,125.78 272.77,129.94 275.21,127.54 280.37,126.00 281.89,128.85 283.20,141.97 285.53,142.95 288.24,140.98 288.50,141.71" fill="none" stroke="#ff5a0a" stroke-width="1.5" stroke-linejoin="round"/>
<path d="M147.6,117.90h2.5M288.5,117.90h-2.5" stroke="#222" stroke-width="1"/>
<text x="143.80" y="121.90" text-anchor="end" class="tk">0.1</text>
<path d="M147.6,139.80h2.5M288.5,139.80h-2.5" stroke="#222" stroke-width="1"/>
<text x="143.80" y="143.80" text-anchor="end" class="tk">0</text>
<path d="M147.6,161.20h2.5M288.5,161.20h-2.5" stroke="#222" stroke-width="1"/>
<text x="143.80" y="165.20" text-anchor="end" class="tk">−0.1</text>
<path d="M147.60,116.8v2.5M147.60,162.0v-2.5" stroke="#222" stroke-width="1"/>
<text x="147.60" y="177.60" text-anchor="middle" class="tk">0</text>
<path d="M218.05,116.8v2.5M218.05,162.0v-2.5" stroke="#222" stroke-width="1"/>
<text x="218.05" y="177.60" text-anchor="middle" class="tk">0.005</text>
<path d="M288.50,116.8v2.5M288.50,162.0v-2.5" stroke="#222" stroke-width="1"/>
<text x="288.50" y="177.60" text-anchor="middle" class="tk">0.01</text>
<rect x="147.6" y="116.8" width="140.90" height="45.20" fill="none" stroke="#2a2a2a" stroke-width="1.6"/>
<rect x="147.7" y="223.4" width="144.90" height="42.40" fill="#fff"/>
<polyline points="147.70,254.73 149.02,257.49 150.70,258.66 152.65,257.49 154.61,253.67 156.28,251.18 159.07,252.17 162.98,253.17 164.66,241.53 167.45,239.08 169.68,239.41 172.47,242.20 174.71,233.38 177.78,229.46 180.57,230.77 183.08,233.86 185.59,232.07 190.90,230.93 192.46,233.05 193.80,242.81 196.20,243.55 198.99,242.08 200.28,244.72 203.18,252.50 204.85,255.58 206.53,256.60 208.48,255.58 210.44,252.20 212.11,250.00 214.90,250.88 218.81,251.76 220.49,241.49 223.28,239.08 225.51,239.41 228.30,242.08 230.54,233.38 233.61,229.46 236.40,230.77 238.91,233.86 241.42,232.07 246.73,230.93 248.29,233.05 249.63,242.99 252.03,243.81 254.82,242.18 256.11,245.11 259.01,253.75 260.68,257.17 262.36,258.31 264.31,257.17 266.27,253.43 267.94,250.98 270.73,251.96 274.64,252.94 276.32,241.53 279.11,239.08 281.34,239.41 284.13,242.18 286.37,233.38 289.44,229.46 292.23,230.77 292.60,231.23" fill="none" stroke="#0a6fc8" stroke-width="1.5" stroke-linejoin="round"/>
<path d="M147.7,224.90h2.5M292.6,224.90h-2.5" stroke="#222" stroke-width="1"/>
<text x="143.90" y="228.90" text-anchor="end" class="tk">0.1</text>
<path d="M147.7,241.20h2.5M292.6,241.20h-2.5" stroke="#222" stroke-width="1"/>
<text x="143.90" y="245.20" text-anchor="end" class="tk">0</text>
<path d="M147.7,257.50h2.5M292.6,257.50h-2.5" stroke="#222" stroke-width="1"/>
<text x="143.90" y="261.50" text-anchor="end" class="tk">−0.1</text>
<path d="M147.70,223.4v2.5M147.70,265.8v-2.5" stroke="#222" stroke-width="1"/>
<text x="147.70" y="281.30" text-anchor="middle" class="tk">0</text>
<path d="M220.15,223.4v2.5M220.15,265.8v-2.5" stroke="#222" stroke-width="1"/>
<text x="220.15" y="281.30" text-anchor="middle" class="tk">0.005</text>
<path d="M292.60,223.4v2.5M292.60,265.8v-2.5" stroke="#222" stroke-width="1"/>
<text x="292.60" y="281.30" text-anchor="middle" class="tk">0.01</text>
<rect x="147.7" y="223.4" width="144.90" height="42.40" fill="none" stroke="#2a2a2a" stroke-width="1.6"/>
<rect x="459.0" y="14.9" width="72.40" height="14.50" fill="#fff" stroke="#555" stroke-width="1"/>
<path d="M462.2,22.15H490.5" stroke="#3cf03c" stroke-width="1.6"/>
<text x="493.1" y="25.75" class="lg">A Phase</text>
<rect x="459.3" y="132.8" width="72.50" height="15.00" fill="#fff" stroke="#555" stroke-width="1"/>
<path d="M462.2,140.30H490.5" stroke="#ff7a3a" stroke-width="1.6"/>
<text x="493.1" y="143.90" class="lg">B Phase</text>
<rect x="459.0" y="245.5" width="72.80" height="15.10" fill="#fff" stroke="#555" stroke-width="1"/>
<path d="M462.2,253.05H490.5" stroke="#5ec0f8" stroke-width="1.6"/>
<text x="493.1" y="256.65" class="lg">C Phase</text>
<text x="290.6" y="334.4" text-anchor="middle" class="xl">Time(s)</text>
<text transform="translate(13.0,165.2) rotate(-90)" text-anchor="middle" class="yl">Current(100A)</text>
</g>
</svg></div>
</body></html>
